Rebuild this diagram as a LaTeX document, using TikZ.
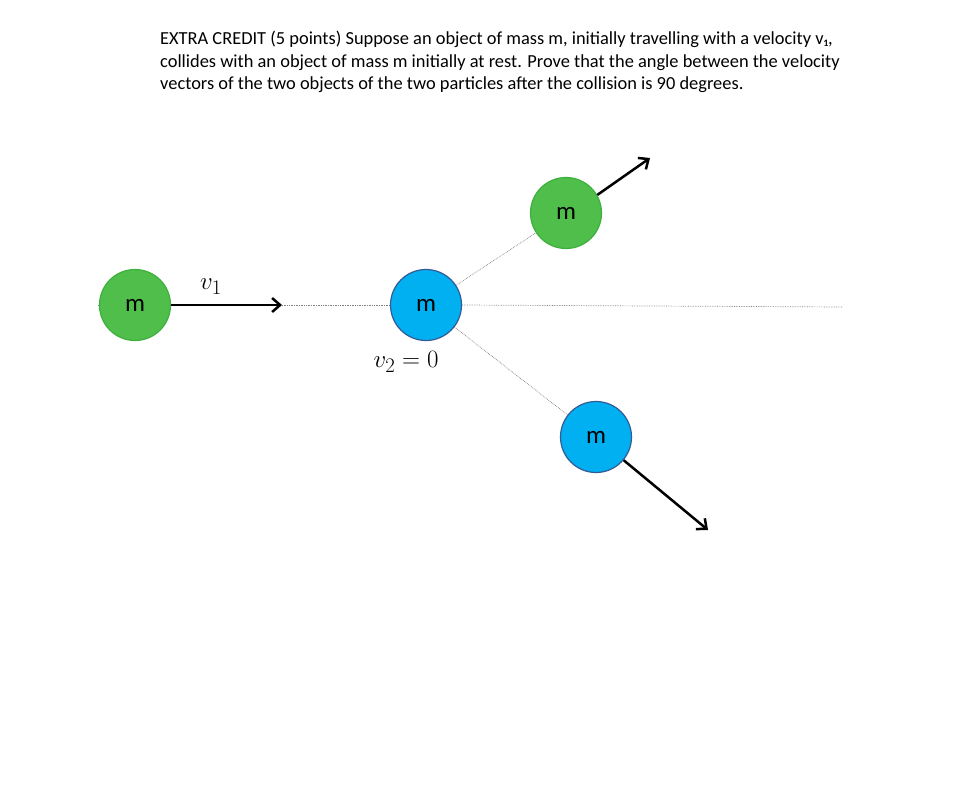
\documentclass[tikz,border=0pt]{standalone}
\usepackage{fontspec}
\setmainfont{Carlito}
\usetikzlibrary{arrows.meta}
\begin{document}
\begin{tikzpicture}[x=1pt,y=-1pt,
  ball/.style={circle,minimum size=71pt,inner sep=0pt,line width=1.2pt,font=\fontsize{25}{28}\selectfont},
  gball/.style={ball,fill={rgb,255:red,80;green,190;blue,75},draw={rgb,255:red,60;green,175;blue,60}},
  bball/.style={ball,fill={rgb,255:red,0;green,176;blue,240},draw={rgb,255:red,50;green,90;blue,150}},
  vel/.style={line width=2.5pt,-{Straight Barb[length=8pt,width=14pt,line width=2.5pt]}},
  guide/.style={densely dotted,gray,line width=0.7pt}]
\useasboundingbox (0,0) rectangle (961,785);
\node[anchor=north west,align=left,inner sep=0pt,font=\fontsize{18.4}{22.5}\selectfont] (txt) at (160,31)
 {EXTRA CREDIT (5 points) Suppose an object of mass m, initially travelling with a velocity v₁,\\
  collides with an object of mass m initially at rest. Prove that the angle between the velocity\\
  vectors of the two objects of the two particles after the collision is 90 degrees.};
\node[gball] (a) at (135,305) {m};
\node[bball] (b) at (426,305) {m};
\node[gball] (c) at (566,213) {m};
\node[bball] (d) at (596,437) {m};
\coordinate (l0) at (98,305);
\coordinate (r0) at (843,307);
\coordinate (ah) at (282,305);
\coordinate (ct) at (650,158);
\coordinate (dt) at (708,530);
\draw[guide] (l0) -- (a.west);
\draw[guide] (ah) -- (b.west);
\draw[guide] (b.east) -- (r0);
\draw[guide] (b) -- (c);
\draw[guide] (b) -- (d);
\draw[vel] (a.east) -- (ah);
\draw[vel] (c.30) -- (ct);
\draw[vel] (d.-40) -- (dt);
\node[font=\fontsize{30}{32}\selectfont] (v1) at (211,287) {$v_1$};
\node[font=\fontsize{30}{32}\selectfont] (v2) at (406,362) {$v_2=0$};
\end{tikzpicture}
\end{document}
